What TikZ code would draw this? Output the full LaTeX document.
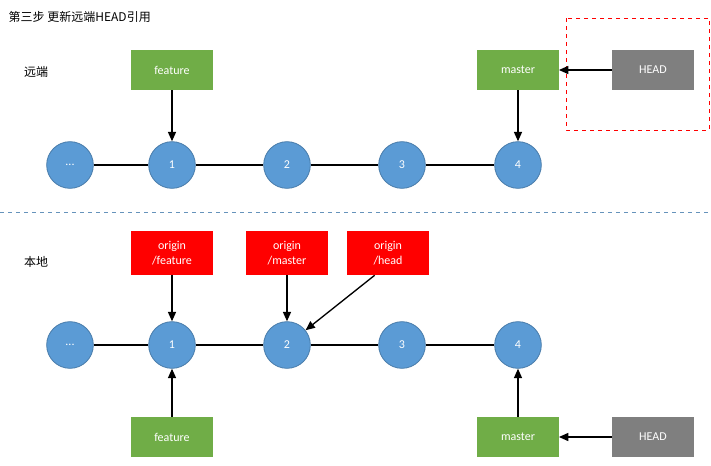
\documentclass[tikz,border=0pt]{standalone}
\usepackage{fontspec}
\setmainfont{Carlito}
\newfontfamily\cjk{Noto Sans CJK SC}
\usetikzlibrary{arrows.meta}
\definecolor{cblue}{HTML}{5B9BD5}
\definecolor{cgreen}{HTML}{70AD47}
\definecolor{cgray}{HTML}{7F7F7F}
\definecolor{cred}{HTML}{FF0000}
\begin{document}
\begin{tikzpicture}[x=0.75pt,y=-0.75pt,
  cnode/.style={circle,fill=cblue,draw=cblue!80!black,line width=0.6pt,minimum size=35pt,inner sep=0,text=white,font=\small},
  gb/.style={rectangle,fill=cgreen,minimum width=61pt,minimum height=30pt,inner sep=0,text=white,font=\small},
  hb/.style={rectangle,fill=cgray,minimum width=61pt,minimum height=30pt,inner sep=0,text=white,font=\small},
  rb/.style={rectangle,fill=cred,minimum width=61pt,minimum height=33pt,inner sep=0,text=white,font=\small,align=center},
  ar/.style={-{Triangle[length=7pt,width=6pt]},line width=1pt},
  ln/.style={line width=1pt}]
\useasboundingbox (0,0) rectangle (711,465);
\node[anchor=west,font=\cjk\small] (t) at (4,17) {第三步 更新远端HEAD引用};
\node[font=\cjk\small] (r) at (36,72) {远端};
\node[font=\cjk\small] (l) at (36,262) {本地};
\draw[red,dashed,line width=0.6pt] (566,18) rectangle (709,130);
\draw[cblue!70!gray,dashed,line width=0.6pt] (0,212) -- (711,212);
% top
\node[cnode] (a0) at (70,165) {...};
\foreach \n/\x/\t in {a1/172/1,a2/287/2,a3/402/3,a4/518/4}{\node[cnode] (\n) at (\x,165) {\t};}
\draw[ln] (a0)--(a1)--(a2)--(a3)--(a4);
\node[gb] (tf) at (172,70) {feature};
\node[gb] (tm) at (518,70) {master};
\node[hb] (th) at (653,70) {HEAD};
\draw[ar] (tf)--(a1);
\draw[ar] (tm)--(a4);
\draw[ar] (th)--(tm);
% bottom
\node[cnode] (b0) at (70,345) {...};
\foreach \n/\x/\t in {b1/172/1,b2/287/2,b3/402/3,b4/518/4}{\node[cnode] (\n) at (\x,345) {\t};}
\draw[ln] (b0)--(b1)--(b2)--(b3)--(b4);
\node[rb] (of) at (172,253) {origin\\/feature};
\node[rb] (om) at (287,253) {origin\\/master};
\node[rb] (oh) at (388,253) {origin\\/head};
\coordinate (ohs) at ([xshift=-10pt]oh.south);
\draw[ar] (of)--(b1);
\draw[ar] (om)--(b2);
\draw[ar] (ohs)--(b2);
\node[gb] (bf) at (172,437) {feature};
\node[gb] (bm) at (518,437) {master};
\node[hb] (bh) at (653,437) {HEAD};
\draw[ar] (bf)--(b1);
\draw[ar] (bm)--(b4);
\draw[ar] (bh)--(bm);
\end{tikzpicture}
\end{document}
